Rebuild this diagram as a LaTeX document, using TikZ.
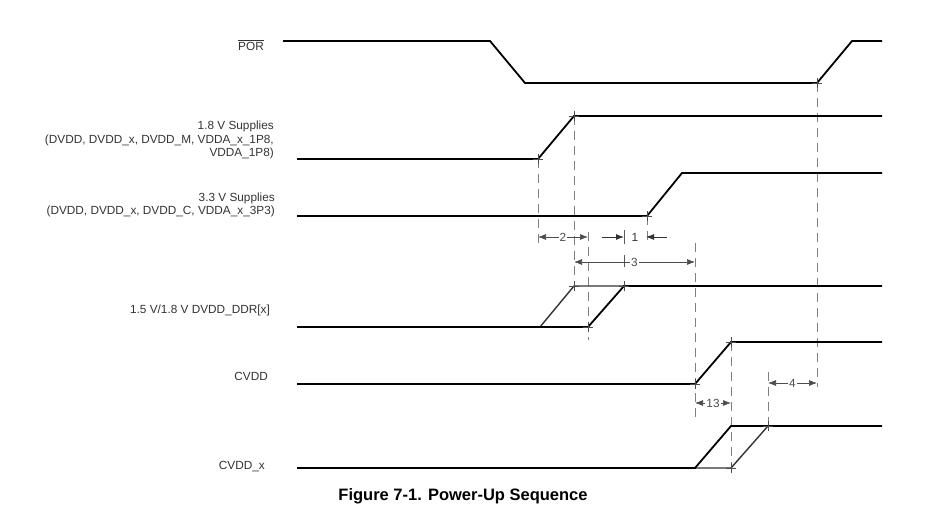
\documentclass[tikz,border=0pt]{standalone}
\usepackage{fontspec}
\setmainfont{Liberation Sans}
\usetikzlibrary{arrows.meta,shapes.misc}

\begin{document}
\begin{tikzpicture}[x=1pt,y=-1pt,
  font=\fontsize{11.8}{13.6}\selectfont, text=black!80,
  wave/.style={line width=1.8pt, black},
  ghost/.style={line width=1.4pt, black!80},
  guide/.style={gray, line width=0.9pt, dash pattern=on 9pt off 6pt},
  dim/.style={black!70, line width=0.7pt, {Latex[length=8pt,width=6pt]}-{Latex[length=8pt,width=6pt]}},
  dimin/.style={black!80, line width=0.9pt, -{Latex[length=8pt,width=6pt]}},
  stub/.style={black!65, line width=0.8pt},
  plus/.style={draw=black!70, line width=0.6pt, cross out, rotate=45, minimum size=7pt, inner sep=0pt},
  lbl/.style={anchor=east, align=right, inner sep=0pt},
  dimtxt/.style={fill=white, inner sep=1pt}]
\useasboundingbox (0,0) rectangle (926,526);

\node[lbl] (por) at (264,45) {$\overline{\mbox{POR}}$};
\node[lbl] (s18) at (274,140) {1.8 V Supplies\\(DVDD, DVDD\_x, DVDD\_M, VDDA\_x\_1P8,\\VDDA\_1P8)};
\node[lbl] (s33) at (275,205) {3.3 V Supplies\\(DVDD, DVDD\_x, DVDD\_C, VDDA\_x\_3P3)};
\node[lbl] (ddr) at (270,310) {1.5 V/1.8 V DVDD\_DDR[x]};
\node[lbl] (cvdd) at (268,376) {CVDD};
\node[lbl] (cvddx) at (265,467) {CVDD\_x};

\coordinate (p0) at (817,83);
\coordinate (a0) at (538,159); \coordinate (a1) at (574,116);
\coordinate (b0) at (647,216); \coordinate (b1) at (682,173);
\coordinate (d0) at (540,327); \coordinate (d1) at (574,286);
\coordinate (d2) at (588,327); \coordinate (d3) at (624,286);
\coordinate (c0) at (695,384); \coordinate (c1) at (731,342);
\coordinate (x0) at (695,468); \coordinate (x1) at (731,426);
\coordinate (x2) at (731,468); \coordinate (x3) at (768,426);

\draw[guide] (p0) -- ++(0,304);
\draw[guide] (a0) -- ++(0,88);
\draw[guide] (a1) -- (d1);
\draw[guide] (588,232) -- ++(0,108);
\draw[guide] (b0) -- ++(0,27);
\draw[guide] (695,243) -- ++(0,175);
\draw[guide] (c1) -- ++(0,131);
\draw[guide] (768,372) -- (x3);

\draw[ghost] (d0) -- (d1) -- (d3);
\draw[ghost] (x0) -- (x2) -- (x3);
\draw[wave] (283,41) -- (490,41) -- (525,83) -- (p0) -- (852,41) -- (882,41);
\draw[wave] (297,159) -- (a0) -- (a1) -- (882,116);
\draw[wave] (297,216) -- (b0) -- (b1) -- (882,173);
\draw[wave] (297,327) -- (d2) -- (d3) -- (882,286);
\draw[wave] (297,384) -- (c0) -- (c1) -- (882,342);
\draw[wave] (297,468) -- (x0) -- (x1) -- (882,426);

\foreach \p in {p0,a0,a1,b0,d1,d2,d3,c0,c1,x2,x3}
  \node[plus] (m\p) at (\p) {};

\draw[stub] (624,230) -- (624,244) (624,255) -- (624,267);
\draw[dim] (538,237) -- (588,237) node[midway, dimtxt] (t2) {2};
\draw[dimin] (602,237) -- (624,237);
\draw[dimin] (667,237) -- (646,237);
\node (t1) at (635,237) {1};
\draw[dim] (574,262) -- (695,262) node[pos=0.5, dimtxt] (t3) {3};
\draw[dim] (695,403) -- (731,403) node[midway, dimtxt] (t13) {13};
\draw[dim] (768,383) -- (817,383) node[midway, dimtxt] (t4) {4};

\node[font=\bfseries\fontsize{16.5}{18}\selectfont, text=black] (cap) at (463,496) {Figure 7-1. Power-Up Sequence};
\end{tikzpicture}
\end{document}
